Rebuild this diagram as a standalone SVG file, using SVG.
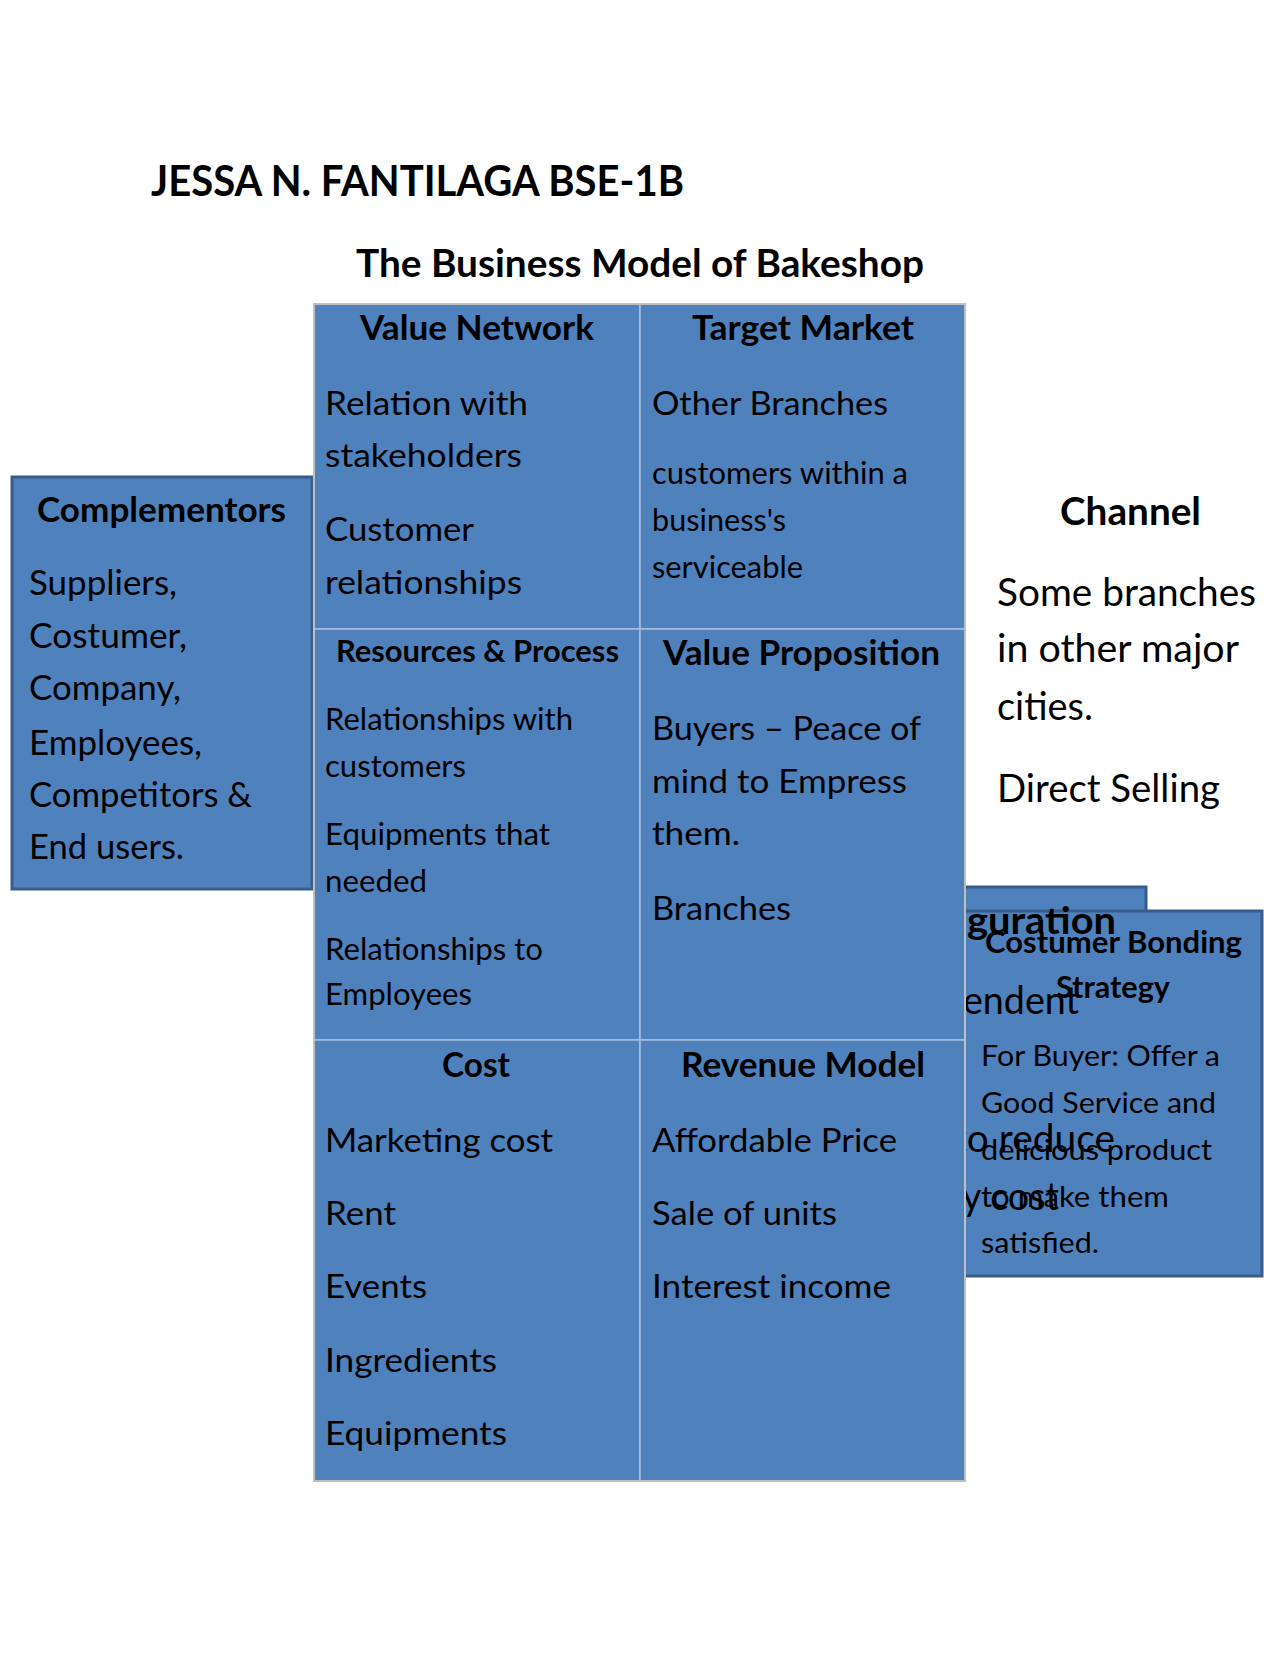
<svg xmlns="http://www.w3.org/2000/svg" width="1280" height="1656" viewBox="0 0 1280 1656">
<style>
text{fill:#000;font-family:Lato,"Liberation Sans",sans-serif}
.b{font-weight:700}
.r{font-weight:400}
.cell{fill:#4F81BD;stroke:#A9BFDC;stroke-width:1.5}
.box{fill:#4F81BD;stroke:#385D8A;stroke-width:3}
</style>
<rect width="1280" height="1656" fill="#fff"/>
<g id="titles">
<text class="b" x="151" y="196" font-size="41.5" textLength="533" lengthAdjust="spacingAndGlyphs">JESSA N. FANTILAGA BSE-1B</text>
<text class="b" x="356" y="277" font-size="37.5" textLength="568" lengthAdjust="spacingAndGlyphs">The Business Model of Bakeshop</text>
</g>
<g id="complementors">
<rect class="box" x="12" y="477" width="300" height="412"/>
<text class="b" x="37" y="522" font-size="33.5" textLength="249" lengthAdjust="spacingAndGlyphs">Complementors</text>
<text class="r" x="29" y="595" font-size="34" textLength="148" lengthAdjust="spacingAndGlyphs">Suppliers,</text>
<text class="r" x="29" y="648" font-size="34" textLength="158" lengthAdjust="spacingAndGlyphs">Costumer,</text>
<text class="r" x="29" y="700" font-size="34" textLength="152" lengthAdjust="spacingAndGlyphs">Company,</text>
<text class="r" x="29" y="755" font-size="34" textLength="173" lengthAdjust="spacingAndGlyphs">Employees,</text>
<text class="r" x="29" y="807" font-size="34" textLength="223" lengthAdjust="spacingAndGlyphs">Competitors &amp;</text>
<text class="r" x="29" y="859" font-size="34" textLength="155" lengthAdjust="spacingAndGlyphs">End users.</text>
</g>
<g id="channel">
<text class="b" x="1060" y="525" font-size="37.5" textLength="141" lengthAdjust="spacingAndGlyphs">Channel</text>
<text class="r" x="997" y="606" font-size="38" textLength="259" lengthAdjust="spacingAndGlyphs">Some branches</text>
<text class="r" x="997" y="662" font-size="38" textLength="242" lengthAdjust="spacingAndGlyphs">in other major</text>
<text class="r" x="997" y="720" font-size="38" textLength="96" lengthAdjust="spacingAndGlyphs">cities.</text>
<text class="r" x="997" y="802" font-size="38" textLength="223" lengthAdjust="spacingAndGlyphs">Direct Selling</text>
</g>
<g id="configuration">
<rect class="box" x="900" y="887" width="246" height="360"/>
</g>
<g id="costumer-bonding">
<rect class="box" x="950" y="911" width="312" height="365"/>
<text class="b" x="985" y="953" font-size="30" textLength="257" lengthAdjust="spacingAndGlyphs">Costumer Bonding</text>
<text class="b" x="1056" y="998" font-size="30" textLength="114" lengthAdjust="spacingAndGlyphs">Strategy</text>
<text class="r" x="981" y="1066" font-size="29.7" textLength="239" lengthAdjust="spacingAndGlyphs">For Buyer: Offer a</text>
<text class="r" x="981" y="1113" font-size="29.7" textLength="235" lengthAdjust="spacingAndGlyphs">Good Service and</text>
<text class="r" x="981" y="1160" font-size="29.7" textLength="231" lengthAdjust="spacingAndGlyphs">delicious product</text>
<text class="r" x="981" y="1207" font-size="29.7" textLength="188" lengthAdjust="spacingAndGlyphs">to make them</text>
<text class="r" x="981" y="1253" font-size="29.7" textLength="118" lengthAdjust="spacingAndGlyphs">satisfied.</text>
</g>
<g id="configuration-text">
<text class="b" x="967" y="934" font-size="38" textLength="149" lengthAdjust="spacingAndGlyphs">guration</text>
<text class="r" x="963" y="1014" font-size="38" textLength="116" lengthAdjust="spacingAndGlyphs">endent</text>
<text class="r" x="953" y="1152" font-size="38" textLength="162" lengthAdjust="spacingAndGlyphs">to reduce</text>
<text class="r" x="962" y="1210" font-size="38" textLength="97" lengthAdjust="spacingAndGlyphs">y cost</text>
</g>
<g id="table">
<rect x="314" y="304" width="651" height="1177" fill="#4F81BD" stroke="#BFBFBF" stroke-width="2"/>
<g id="value-network">
<rect class="cell" x="314" y="304" width="326" height="325"/>
<text class="b" x="360" y="340" font-size="34" textLength="234" lengthAdjust="spacingAndGlyphs">Value Network</text>
<text class="r" x="325" y="415" font-size="33.5" textLength="203" lengthAdjust="spacingAndGlyphs">Relation with</text>
<text class="r" x="325" y="467" font-size="33.5" textLength="197" lengthAdjust="spacingAndGlyphs">stakeholders</text>
<text class="r" x="325" y="541" font-size="33.5" textLength="149" lengthAdjust="spacingAndGlyphs">Customer</text>
<text class="r" x="325" y="594" font-size="33.5" textLength="197" lengthAdjust="spacingAndGlyphs">relationships</text>
</g>
<g id="target-market">
<rect class="cell" x="640" y="304" width="325" height="325"/>
<text class="b" x="692" y="340" font-size="34" textLength="222" lengthAdjust="spacingAndGlyphs">Target Market</text>
<text class="r" x="652" y="415" font-size="33.5" textLength="236" lengthAdjust="spacingAndGlyphs">Other Branches</text>
<text class="r" x="652" y="484" font-size="30" textLength="256" lengthAdjust="spacingAndGlyphs">customers within a</text>
<text class="r" x="652" y="531" font-size="30" textLength="134" lengthAdjust="spacingAndGlyphs">business's</text>
<text class="r" x="652" y="578" font-size="30" textLength="151" lengthAdjust="spacingAndGlyphs">serviceable</text>
</g>
<g id="resources-process">
<rect class="cell" x="314" y="629" width="326" height="411"/>
<text class="b" x="336" y="662" font-size="30" textLength="283" lengthAdjust="spacingAndGlyphs">Resources &amp; Process</text>
<text class="r" x="325" y="730" font-size="30" textLength="248" lengthAdjust="spacingAndGlyphs">Relationships with</text>
<text class="r" x="325" y="777" font-size="30" textLength="141" lengthAdjust="spacingAndGlyphs">customers</text>
<text class="r" x="325" y="845" font-size="30" textLength="225" lengthAdjust="spacingAndGlyphs">Equipments that</text>
<text class="r" x="325" y="892" font-size="30" textLength="102" lengthAdjust="spacingAndGlyphs">needed</text>
<text class="r" x="325" y="960" font-size="30" textLength="218" lengthAdjust="spacingAndGlyphs">Relationships to</text>
<text class="r" x="325" y="1005" font-size="30" textLength="147" lengthAdjust="spacingAndGlyphs">Employees</text>
</g>
<g id="value-proposition">
<rect class="cell" x="640" y="629" width="325" height="411"/>
<text class="b" x="663" y="665" font-size="34" textLength="277" lengthAdjust="spacingAndGlyphs">Value Proposition</text>
<text class="r" x="652" y="740" font-size="33.5" textLength="269" lengthAdjust="spacingAndGlyphs">Buyers – Peace of</text>
<text class="r" x="652" y="793" font-size="33.5" textLength="255" lengthAdjust="spacingAndGlyphs">mind to Empress</text>
<text class="r" x="652" y="845" font-size="33.5" textLength="88" lengthAdjust="spacingAndGlyphs">them.</text>
<text class="r" x="652" y="920" font-size="33.5" textLength="139" lengthAdjust="spacingAndGlyphs">Branches</text>
</g>
<g id="cost">
<rect class="cell" x="314" y="1040" width="326" height="441"/>
<text class="b" x="442" y="1077" font-size="34" textLength="68" lengthAdjust="spacingAndGlyphs">Cost</text>
<text class="r" x="325" y="1152" font-size="33.5" textLength="228" lengthAdjust="spacingAndGlyphs">Marketing cost</text>
<text class="r" x="325" y="1225" font-size="33.5" textLength="71" lengthAdjust="spacingAndGlyphs">Rent</text>
<text class="r" x="325" y="1298" font-size="33.5" textLength="102" lengthAdjust="spacingAndGlyphs">Events</text>
<text class="r" x="325" y="1372" font-size="33.5" textLength="172" lengthAdjust="spacingAndGlyphs">Ingredients</text>
<text class="r" x="325" y="1445" font-size="33.5" textLength="182" lengthAdjust="spacingAndGlyphs">Equipments</text>
</g>
<g id="revenue-model">
<rect class="cell" x="640" y="1040" width="325" height="441"/>
<text class="b" x="681" y="1077" font-size="34" textLength="244" lengthAdjust="spacingAndGlyphs">Revenue Model</text>
<text class="r" x="652" y="1152" font-size="33.5" textLength="245" lengthAdjust="spacingAndGlyphs">Affordable Price</text>
<text class="r" x="652" y="1225" font-size="33.5" textLength="185" lengthAdjust="spacingAndGlyphs">Sale of units</text>
<text class="r" x="652" y="1298" font-size="33.5" textLength="239" lengthAdjust="spacingAndGlyphs">Interest income</text>
</g>
<rect x="314" y="304" width="651" height="1177" fill="none" stroke="#BFBFBF" stroke-width="2"/>
</g>
<g id="connectors"/>
</svg>
